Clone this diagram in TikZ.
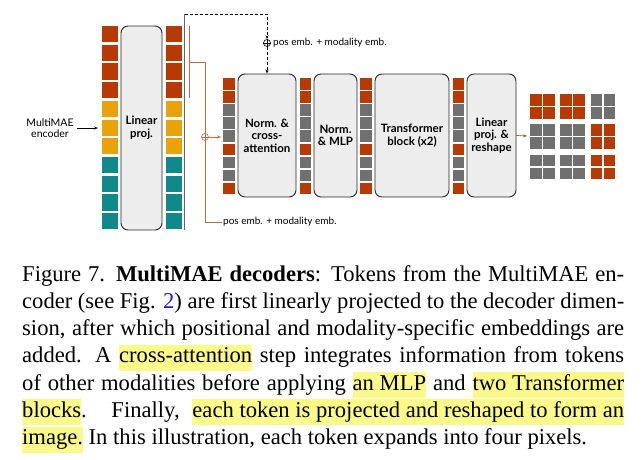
\documentclass[tikz,border=0pt]{standalone}
\usepackage{fontspec}
\setmainfont{Liberation Serif}
\newfontfamily\lato{Lato}
\usetikzlibrary{arrows.meta}
\definecolor{tred}{HTML}{B73A05}
\definecolor{tyel}{HTML}{E9A20A}
\definecolor{tteal}{HTML}{10898A}
\definecolor{tgray}{HTML}{707070}
\definecolor{boxfill}{HTML}{EDEDED}
\definecolor{oline}{HTML}{C26A42}
\definecolor{hlc}{HTML}{FBF98A}
\definecolor{refblue}{HTML}{1A1AE0}
\newcommand{\hlx}[1]{{\setlength{\fboxsep}{0pt}\colorbox{hlc}{\strut #1}}}
\begin{document}
\begin{tikzpicture}[x=1pt,y=-1pt,
  blk/.style={draw=black!85,line width=0.9pt,rounded corners=7pt,fill=boxfill,
     font=\lato\bfseries\fontsize{11.5}{12.5}\selectfont,align=center,inner sep=0pt},
  small/.style={font=\lato\fontsize{10}{11}\selectfont,inner sep=1pt},
  captext/.style={anchor=base west,inner sep=0pt,font=\fontsize{22.6}{26}\selectfont}]
\useasboundingbox (0,0) rectangle (644,459);
% left token columns
\def\tokcol#1{%
\foreach \c [count=\i from 0] in {tred,tred,tred,tred,tyel,tyel,tyel,tteal,tteal,tteal,tteal}
  \fill[\c] (#1,{26+\i*18.7}) rectangle ++(15.5,16.2);}
\tokcol{102}
\tokcol{166}
\node[blk,minimum width=41pt,minimum height=204pt] (lp) at (141.5,128) {Linear\\proj.};
\node[font=\lato\fontsize{10.5}{11.5}\selectfont,align=center,inner sep=0pt] (enc) at (50,128) {MultiMAE\\encoder};
\draw[-{Stealth[length=4pt]},line width=0.7pt] (enc.east)++(3,0) coordinate (ea) -- (98,128) coordinate (eb);
% gray bar
\draw[black!60,line width=1.6pt] (184.5,14) coordinate (gt) -- (184.5,230) coordinate (gb);
% dashed to cross-attention
\node[small,anchor=west] (pe1) at (272,43) {pos emb. + modality emb.};
\node[draw,circle,inner sep=0pt,minimum size=7pt,line width=0.6pt] (op1) at (267,43) {};
\draw (op1.north)--(op1.south) (op1.west)--(op1.east);
% orange
\draw[oline,line width=1.5pt] (189.5,26) coordinate (ot) -- (189.5,98) coordinate (ob);
\node[small,anchor=west] (pe2) at (222,222) {pos emb. + modality emb.};
\node[draw=oline,circle,inner sep=0pt,minimum size=7pt,line width=0.6pt] (op2) at (205,137) {};
\draw[oline,line width=0.6pt] (op2.north)--(op2.south) (op2.west)--(op2.east);
\draw[oline,line width=0.7pt] (189.5,62) -| (op2.north);
\draw[oline,line width=0.7pt] (op2.south) |- (pe2.west);
\draw[oline,line width=0.7pt,-{Stealth[length=4pt]}] (op2.east) -- (221,137);
% blocks
\node[blk,minimum width=58pt,minimum height=123pt] (ca) at (267,135.5) {Norm. \&\\cross-\\attention};
\node[blk,minimum width=43pt,minimum height=123pt] (mlp) at (335.5,135.5) {Norm.\\\& MLP};
\node[blk,minimum width=74pt,minimum height=123pt] (tf) at (412,135.5) {Transformer\\block (x2)};
\node[blk,minimum width=49pt,minimum height=123pt] (rs) at (491.5,135.5) {Linear\\proj. \&\\reshape};
\draw[densely dashed,line width=0.7pt,-{Stealth[length=4pt]}] (gt) -| (op1.north);
\draw[densely dashed,line width=0.7pt,-{Stealth[length=4pt]}] (op1.south) -- (ca.north);
% small token columns
\def\tokcolb#1{%
\foreach \c [count=\i from 0] in {tred,tred,tgray,tgray,tgray,tred,tgray,tgray,tred}
  \fill[\c] (#1,{78+\i*13.1}) rectangle ++(11.5,11.6);}
\tokcolb{223}
\tokcolb{299.5}
\tokcolb{360}
\tokcolb{452.5}
\draw[oline!80!black,line width=0.7pt,-{Stealth[length=4pt]}] (rs.east) -- (527,136) coordinate (oa);
% output grid
\foreach \c [count=\k from 0] in {tred,tred,tgray,tgray,tgray,tred,tgray,tgray,tred}{
  \pgfmathsetmacro\gx{530+mod(\k,3)*30.3}
  \pgfmathsetmacro\gy{94+floor(\k/3)*30.3}
  \foreach \a in {0,1} \foreach \b in {0,1}
    \fill[\c] ({\gx+\a*13},{\gy+\b*13}) rectangle ++(11.5,11.5);
}
% caption
\node[captext] (c1) at (22,281) {\makebox[602pt][s]{Figure 7. \textbf{MultiMAE decoders}: Tokens from the MultiMAE en-}};
\node[captext] (c2) at (22,308.3) {\makebox[602pt][s]{coder (see Fig. \textcolor{refblue}{2}) are first linearly projected to the decoder dimen-}};
\node[captext] (c3) at (22,335.6) {\makebox[602pt][s]{sion, after which positional and modality-specific embeddings are}};
\node[captext] (c4) at (22,362.9) {\makebox[602pt][s]{added. A \hlx{cross-attention} step integrates information from tokens}};
\node[captext] (c5) at (22,390.2) {\makebox[602pt][s]{of other modalities before applying \hlx{an MLP} and \hlx{two Transformer}}};
\node[captext] (c6) at (22,417.5) {\makebox[602pt][s]{\hlx{blocks}. Finally, \hlx{each token is projected and reshaped to form an}}};
\node[captext] (c7) at (22,444.8) {\hlx{image.} In this illustration, each token expands into four pixels.};
\end{tikzpicture}
\end{document}
